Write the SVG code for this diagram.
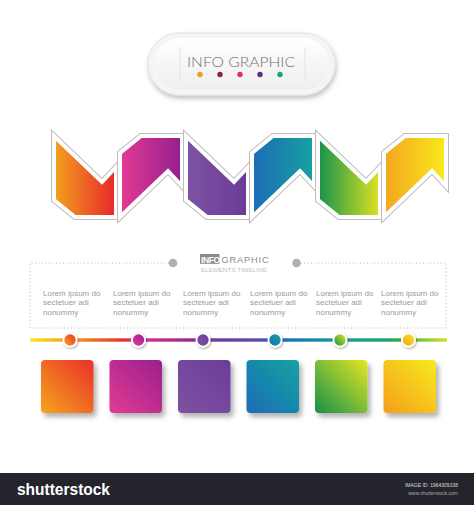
<svg xmlns="http://www.w3.org/2000/svg" width="474" height="505" viewBox="0 0 474 505">
<style>
.ol{fill:none;stroke:#bdbdbd;stroke-width:6;stroke-linejoin:miter}
.wl{stroke:#fff;stroke-width:4;stroke-linejoin:miter}
.lorem{font-family:"Liberation Sans",Arial,sans-serif;font-size:8px;fill:#9a9a9a}
.dot{fill:none;stroke:#b5b5b5;stroke-width:1;stroke-dasharray:1 2.5}
.sq{filter:url(#sh)}
</style>
<defs>
<filter id="sh" x="-30%" y="-30%" width="170%" height="170%">
<feDropShadow dx="3" dy="4" stdDeviation="2.5" flood-color="#000" flood-opacity="0.3"/>
</filter>
<filter id="sh2" x="-20%" y="-40%" width="140%" height="190%">
<feDropShadow dx="1" dy="3" stdDeviation="2.5" flood-color="#000" flood-opacity="0.25"/>
</filter>
<filter id="sh3" x="-60%" y="-60%" width="220%" height="220%">
<feDropShadow dx="0.8" dy="1.2" stdDeviation="1" flood-color="#000" flood-opacity="0.35"/>
</filter>
<linearGradient id="a1"><stop offset="0" stop-color="#f3a21f"/><stop offset="1" stop-color="#e8262a"/></linearGradient>
<linearGradient id="a2"><stop offset="0" stop-color="#e43a93"/><stop offset="1" stop-color="#941f8d"/></linearGradient>
<linearGradient id="a3"><stop offset="0" stop-color="#7c54a4"/><stop offset="1" stop-color="#6a3b97"/></linearGradient>
<linearGradient id="a4"><stop offset="0" stop-color="#1c6cb7"/><stop offset="1" stop-color="#17a19f"/></linearGradient>
<linearGradient id="a5"><stop offset="0" stop-color="#14924b"/><stop offset="1" stop-color="#e0e322"/></linearGradient>
<linearGradient id="a6"><stop offset="0" stop-color="#f4a51f"/><stop offset="1" stop-color="#f7ea1b"/></linearGradient>
<linearGradient id="s1" x1="0" y1="1" x2="1" y2="0"><stop offset="0" stop-color="#f6a41d"/><stop offset="1" stop-color="#e9302a"/></linearGradient>
<linearGradient id="s2" x1="0" y1="1" x2="1" y2="0"><stop offset="0" stop-color="#e33b93"/><stop offset="1" stop-color="#9b1f8e"/></linearGradient>
<linearGradient id="s3" x1="0" y1="1" x2="1" y2="0"><stop offset="0" stop-color="#7d53a3"/><stop offset="1" stop-color="#6b3c97"/></linearGradient>
<linearGradient id="s4" x1="0" y1="1" x2="1" y2="0"><stop offset="0" stop-color="#1c6bb6"/><stop offset="1" stop-color="#15a3a0"/></linearGradient>
<linearGradient id="s5" x1="0" y1="1" x2="1" y2="0"><stop offset="0" stop-color="#159149"/><stop offset="1" stop-color="#e6e623"/></linearGradient>
<linearGradient id="s6" x1="0" y1="1" x2="1" y2="0"><stop offset="0" stop-color="#f59e1f"/><stop offset="1" stop-color="#f8ea1b"/></linearGradient>
<linearGradient id="tl" gradientUnits="userSpaceOnUse" x1="30" y1="0" x2="447" y2="0">
<stop offset="0" stop-color="#f6e61d"/><stop offset="0.1" stop-color="#f39a1e"/><stop offset="0.22" stop-color="#e9332a"/><stop offset="0.26" stop-color="#d9318c"/><stop offset="0.4" stop-color="#8d2a8e"/><stop offset="0.45" stop-color="#6f3f99"/><stop offset="0.55" stop-color="#5b4ba0"/><stop offset="0.62" stop-color="#1a73b6"/><stop offset="0.75" stop-color="#1a9e9a"/><stop offset="0.84" stop-color="#1aa07a"/><stop offset="0.88" stop-color="#2aa84a"/><stop offset="1" stop-color="#d4e321"/>
</linearGradient>
<linearGradient id="pill" x1="0" y1="0" x2="0" y2="1"><stop offset="0" stop-color="#ffffff"/><stop offset="1" stop-color="#eeeeee"/></linearGradient>
<polygon id="dn" points="0,0 48,46 62,31 62,81 21,81 0,64"/>
<polygon id="up" points="0,81 48,35 62,50 62,0 21,0 0,17"/>
</defs>
<rect width="474" height="505" fill="#fff"/>

<g id="title">
<rect x="148" y="33" width="187" height="62" rx="31" fill="#f5f5f5" stroke="#e2e2e2" stroke-width="1" filter="url(#sh2)"/>
<rect x="154" y="38" width="175" height="52" rx="26" fill="url(#pill)"/>
<line x1="180" y1="47" x2="180" y2="82" stroke="#e4e4e4" stroke-width="1"/>
<line x1="305" y1="47" x2="305" y2="82" stroke="#e4e4e4" stroke-width="1"/>
<text x="187" y="67" font-family="Lato,'Liberation Sans',sans-serif" font-weight="300" font-size="14" fill="#6f6f6f" textLength="108" lengthAdjust="spacingAndGlyphs">INFO GRAPHIC</text>
<circle cx="200" cy="74.5" r="2.7" fill="#f39a1e"/>
<circle cx="220" cy="74.5" r="2.7" fill="#8e1c4f"/>
<circle cx="240" cy="74.5" r="2.7" fill="#e22a6b"/>
<circle cx="260" cy="74.5" r="2.7" fill="#5b2c83"/>
<circle cx="280" cy="74.5" r="2.7" fill="#16a08a"/>
</g>

<g id="arrow1" transform="translate(54,136)"><use href="#dn" class="ol"/><use href="#dn" class="wl" fill="url(#a1)"/></g>
<g id="arrow2" transform="translate(120,136)"><use href="#up" class="ol"/><use href="#up" class="wl" fill="url(#a2)"/></g>
<g id="arrow3" transform="translate(186,136)"><use href="#dn" class="ol"/><use href="#dn" class="wl" fill="url(#a3)"/></g>
<g id="arrow4" transform="translate(252,136)"><use href="#up" class="ol"/><use href="#up" class="wl" fill="url(#a4)"/></g>
<g id="arrow5" transform="translate(318,136)"><use href="#dn" class="ol"/><use href="#dn" class="wl" fill="url(#a5)"/></g>
<g id="arrow6" transform="translate(384,136)"><use href="#up" class="ol"/><use href="#up" class="wl" fill="url(#a6)"/></g>

<g id="connectors">
<polyline class="dot" points="169,263 30,263 30,328 446,328 446,263 300,263"/>
<circle cx="173" cy="263" r="4.3" fill="#b0b0b0"/>
<circle cx="296.5" cy="263" r="4.3" fill="#b0b0b0"/>
<rect x="30" y="338.3" width="417" height="3.4" fill="url(#tl)"/>
</g>

<g id="subtitle">
<rect x="200" y="254" width="19.5" height="9.8" fill="#8a8a8a"/>
<text x="201" y="262.6" font-family="'Liberation Sans',sans-serif" font-weight="bold" font-size="8.5" letter-spacing="-0.4" fill="#fff">INFO</text>
<text x="221.5" y="262.6" font-family="'Liberation Sans',sans-serif" font-size="9.3" letter-spacing="0.8" fill="#8a8a8a">GRAPHIC</text>
<text x="201" y="272.3" font-family="'Liberation Sans',sans-serif" font-size="5.2" fill="#c4c4c4" textLength="66" lengthAdjust="spacingAndGlyphs">ELEMENTS TIMELINE</text>
</g>

<g id="text1" class="lorem"><text x="43" y="295.5">Lorem ipsum do</text><text x="43" y="305">sectetuer adi</text><text x="43" y="314.5">nonummy</text></g>
<g id="text2" class="lorem"><text x="113" y="295.5">Lorem ipsum do</text><text x="113" y="305">sectetuer adi</text><text x="113" y="314.5">nonummy</text></g>
<g id="text3" class="lorem"><text x="183" y="295.5">Lorem ipsum do</text><text x="183" y="305">sectetuer adi</text><text x="183" y="314.5">nonummy</text></g>
<g id="text4" class="lorem"><text x="250" y="295.5">Lorem ipsum do</text><text x="250" y="305">sectetuer adi</text><text x="250" y="314.5">nonummy</text></g>
<g id="text5" class="lorem"><text x="316" y="295.5">Lorem ipsum do</text><text x="316" y="305">sectetuer adi</text><text x="316" y="314.5">nonummy</text></g>
<g id="text6" class="lorem"><text x="381" y="295.5">Lorem ipsum do</text><text x="381" y="305">sectetuer adi</text><text x="381" y="314.5">nonummy</text></g>

<g id="marker1"><circle cx="70" cy="340" r="7.5" fill="#fff" filter="url(#sh3)"/><circle cx="70" cy="340" r="5.7" fill="url(#s1)"/></g>
<g id="marker2"><circle cx="138.5" cy="340" r="7.5" fill="#fff" filter="url(#sh3)"/><circle cx="138.5" cy="340" r="5.7" fill="url(#s2)"/></g>
<g id="marker3"><circle cx="203" cy="340" r="7.5" fill="#fff" filter="url(#sh3)"/><circle cx="203" cy="340" r="5.7" fill="url(#s3)"/></g>
<g id="marker4"><circle cx="275" cy="340" r="7.5" fill="#fff" filter="url(#sh3)"/><circle cx="275" cy="340" r="5.7" fill="url(#s4)"/></g>
<g id="marker5"><circle cx="340" cy="340" r="7.5" fill="#fff" filter="url(#sh3)"/><circle cx="340" cy="340" r="5.7" fill="url(#s5)"/></g>
<g id="marker6"><circle cx="408.5" cy="340" r="7.5" fill="#fff" filter="url(#sh3)"/><circle cx="408.5" cy="340" r="5.7" fill="url(#s6)"/></g>

<g id="box1"><rect class="sq" x="41" y="360" width="52.5" height="53" rx="4" fill="url(#s1)"/></g>
<g id="box2"><rect class="sq" x="109.5" y="360" width="52.5" height="53" rx="4" fill="url(#s2)"/></g>
<g id="box3"><rect class="sq" x="178" y="360" width="52.5" height="53" rx="4" fill="url(#s3)"/></g>
<g id="box4"><rect class="sq" x="246.5" y="360" width="52.5" height="53" rx="4" fill="url(#s4)"/></g>
<g id="box5"><rect class="sq" x="315" y="360" width="52.5" height="53" rx="4" fill="url(#s5)"/></g>
<g id="box6"><rect class="sq" x="383.5" y="360" width="52.5" height="53" rx="4" fill="url(#s6)"/></g>

<g id="footer">
<rect x="0" y="473" width="474" height="32" fill="#23242c"/>
<text x="17" y="495" font-family="'Liberation Sans',sans-serif" font-weight="bold" font-size="16" fill="#fff" textLength="93" lengthAdjust="spacingAndGlyphs">shutterstock</text>
<text x="458" y="487" text-anchor="end" font-family="'Liberation Sans',sans-serif" font-size="5" fill="#ddd">IMAGE ID: 1964309338</text>
<text x="458" y="494.5" text-anchor="end" font-family="'Liberation Sans',sans-serif" font-size="5" fill="#aaa">www.shutterstock.com</text>
</g>
</svg>
